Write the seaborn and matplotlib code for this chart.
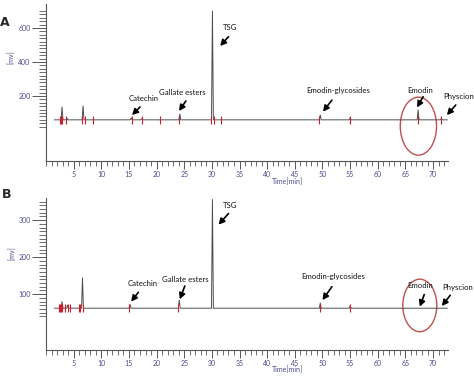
import numpy as np
import pandas as pd
import matplotlib
matplotlib.use("Agg")
import matplotlib.pyplot as plt
import seaborn as sns
from matplotlib.patches import Ellipse
from matplotlib.ticker import FixedLocator

# ---------------- data ----------------
# Panel A: retention time [min] and apex signal [mv]
peak_time_A = [2.9, 3.8, 6.7, 15.4, 17.3, 24.2, 30.1, 49.6, 55.0, 67.3, 71.5]
peak_height_A = [135, 70, 141, 72, 66, 94, 700, 88, 72, 118, 68]
baseline_A = 60
marks_A = [2.5, 2.7, 2.9, 3.7, 6.5, 7.0, 8.5, 15.5, 17.3, 20.6, 24.1,
           29.8, 30.3, 31.6, 49.4, 55.0, 67.2, 71.5]

# Panel B
peak_time_B = [2.9, 3.9, 6.6, 15.2, 24.1, 30.1, 49.6, 55.0]
peak_height_B = [80, 70, 144, 72, 84, 356, 76, 68]
baseline_B = 62
marks_B = [2.3, 2.5, 2.7, 2.9, 3.5, 3.9, 4.3, 5.9, 6.2, 6.7, 15.1, 23.9,
           49.5, 55.0]

compounds = ["Catechin", "Gallate esters", "TSG", "Emodin-glycosides",
             "Emodin", "Physcion"]

yticks_A = [200, 400, 600]
yticks_B = [100, 200, 300]
xticks = [5, 10, 15, 20, 25, 30, 35, 40, 45, 50, 55, 60, 65, 70]

# ---------------- style ----------------
sns.set_style("white")
plt.rcParams["font.family"] = ["Lato", "DejaVu Sans"]

AX_COL = "#555555"
TICK_TXT = "#4a4a8c"
TRACE = "#4d4d4d"
RED = "#cc1f2a"
ELL = "#c0504d"
HW = 0.17


def trace_df(times, heights, base):
    t = [1.5]
    v = [base]
    for pt, ph in zip(times, heights):
        t += [pt - HW, pt, pt + HW]
        v += [base, ph, base]
    t.append(72.6)
    v.append(base)
    return pd.DataFrame({"time": t, "signal": v})


fig = plt.figure(figsize=(4.74, 3.79), dpi=100)
axA = fig.add_axes([46 / 474, 1 - 161 / 379, 402 / 474, 157 / 379])
axB = fig.add_axes([46 / 474, 1 - 350 / 379, 402 / 474, 152 / 379])


def style_axis(ax, ylim, yticks, yminor):
    ax.set_xlim(0, 72.7)
    ax.set_ylim(*ylim)
    for s in ["top", "right"]:
        ax.spines[s].set_visible(False)
    for s in ["left", "bottom"]:
        ax.spines[s].set_color(AX_COL)
        ax.spines[s].set_linewidth(0.8)
    ax.set_yticks(yticks)
    ax.yaxis.set_minor_locator(FixedLocator(yminor))
    ax.set_xticks(xticks)
    ax.xaxis.set_minor_locator(FixedLocator(list(range(0, 73))))
    ax.tick_params(axis="y", which="major", length=10, width=0.7,
                   color=AX_COL, labelsize=5, labelcolor=TICK_TXT, pad=1,
                   left=True, direction="out")
    ax.tick_params(axis="y", which="minor", length=5, width=0.6,
                   color=AX_COL, left=True, direction="out")
    ax.tick_params(axis="x", which="major", length=6, width=0.7,
                   color=AX_COL, labelsize=5, labelcolor=TICK_TXT, pad=1,
                   bottom=True, direction="out")
    ax.tick_params(axis="x", which="minor", length=3.5, width=0.6,
                   color=AX_COL, bottom=True, direction="out")
    ax.set_xlabel("")
    ax.set_ylabel("")
    ax.text(0.60, -0.13, "Time[min]", transform=ax.transAxes, fontsize=5,
            color=TICK_TXT, ha="center", va="center")


def arrow(ax, head, tail):
    ax.annotate("", xy=head, xytext=tail, annotation_clip=False,
                arrowprops=dict(arrowstyle="-|>,head_length=0.35,head_width=0.18",
                                color="black", lw=1.2, shrinkA=0, shrinkB=0))


# ---------------- Panel A ----------------
dfA = trace_df(peak_time_A, peak_height_A, baseline_A)
sns.lineplot(data=dfA, x="time", y="signal", ax=axA, color=TRACE, lw=0.7,
             estimator=None, sort=False)
axA.plot(marks_A, [baseline_A] * len(marks_A), ls="none", marker="|",
         ms=6, mew=0.8, color=RED)
style_axis(axA, (-182, 741), yticks_A, list(range(20, 720, 20)))

textA = [(17.6, 188), (24.6, 218), (33.3, 600), (52.8, 235), (67.6, 231), (71.8, 196)]
arrowsA = [((15.55, 88), (17.0, 135)), ((24.05, 112), (25.3, 171)),
           ((31.5, 494), (33.0, 549)), ((50.1, 108), (51.7, 176)),
           ((67.1, 133), (68.2, 196)), ((72.5, 88), (74.1, 147))]
for i, name in enumerate(compounds):
    x, y = textA[i]
    ha = "left" if name == "Physcion" else "center"
    axA.text(x, y, name, fontsize=5.6, ha=ha, va="center", color="#111111",
             clip_on=False)
    arrow(axA, *arrowsA[i])
axA.add_patch(Ellipse((67.35, 23), 6.56, 341, fill=False, ec=ELL, lw=1.0))

# ---------------- Panel B ----------------
dfB = trace_df(peak_time_B, peak_height_B, baseline_B)
sns.lineplot(data=dfB, x="time", y="signal", ax=axB, color=TRACE, lw=0.7,
             estimator=None, sort=False)
axB.plot(marks_B, [baseline_B] * len(marks_B), ls="none", marker="|",
         ms=6, mew=0.8, color=RED)
style_axis(axB, (-51, 360), yticks_B, list(range(40, 360, 10)))

textB = [(17.4, 130), (25.2, 140), (33.3, 339), (52.0, 149), (67.6, 124), (71.7, 118)]
arrowsB = [((15.4, 80), (16.7, 105)), ((24.2, 86), (25.1, 122)),
           ((31.2, 288), (33.0, 318)), ((50.0, 84), (51.7, 120)),
           ((67.6, 66), (68.4, 99)), ((71.6, 68), (73.1, 97))]
for i, name in enumerate(compounds):
    x, y = textB[i]
    ha = "left" if name == "Physcion" else "center"
    axB.text(x, y, name, fontsize=5.6, ha=ha, va="center", color="#111111",
             clip_on=False)
    arrow(axB, *arrowsB[i])
axB.add_patch(Ellipse((67.6, 69.5), 6.15, 142, fill=False, ec=ELL, lw=1.0))

# panel letters and y labels
fig.text(5 / 474, 1 - 22 / 379, "A", fontsize=9, fontweight="bold",
         family="DejaVu Sans", ha="center", va="center")
fig.text(7 / 474, 1 - 194 / 379, "B", fontsize=9, fontweight="bold",
         family="DejaVu Sans", ha="center", va="center")
fig.text(11 / 474, 1 - 57 / 379, "[mv]", fontsize=5, rotation=90,
         color=TICK_TXT, ha="center", va="center")
fig.text(12 / 474, 1 - 253 / 379, "[mv]", fontsize=5, rotation=90,
         color=TICK_TXT, ha="center", va="center")

fig.savefig("out.png", dpi=100)
